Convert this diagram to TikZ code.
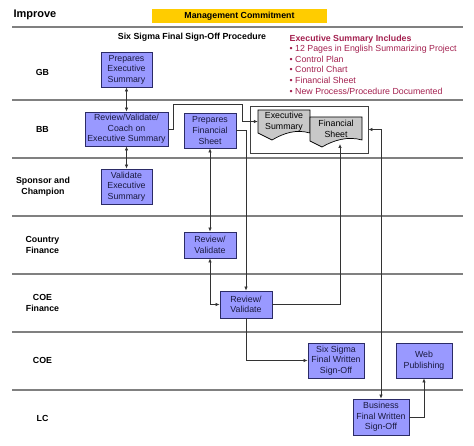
\documentclass[tikz,border=0pt]{standalone}
\usepackage{fontspec}
\setmainfont{Liberation Sans}
\usetikzlibrary{arrows.meta}
\definecolor{boxblue}{HTML}{9999FF}
\definecolor{boxline}{HTML}{2B2B66}
\definecolor{boxtext}{HTML}{1A1A40}
\definecolor{lanegray}{HTML}{808080}
\definecolor{docgray}{HTML}{C8C8C8}
\definecolor{mgmtyellow}{HTML}{FFCC00}
\definecolor{incred}{HTML}{A3204F}
\tikzset{
  stepbox/.style={draw=boxline,fill=boxblue,line width=0.8pt,inner sep=0pt,
    align=center,text=boxtext,font=\fontsize{8.8}{10.6}\selectfont},
  lanelabel/.style={font=\bfseries\fontsize{8.8}{10.6}\selectfont,align=center},
  lane/.style={draw=lanegray,line width=1.2pt},
  docshape/.style={draw=black,fill=docgray,line width=0.7pt},
  flow/.style={draw=black!80,line width=0.7pt,-{Latex[length=4pt,width=3.5pt]}},
  flowboth/.style={flow,{Latex[length=4pt,width=3.5pt]}-{Latex[length=4pt,width=3.5pt]}}
}
\begin{document}
\begin{tikzpicture}[x=1pt,y=-1pt]
\useasboundingbox (0,0) rectangle (474,446);
% header
\node[anchor=west,font=\bfseries\fontsize{11}{13}\selectfont] (improve) at (10,15) {Improve};
\node[fill=mgmtyellow,minimum width=175pt,minimum height=14pt,inner sep=0pt,
  font=\bfseries\fontsize{8.8}{10.6}\selectfont] (mgmt) at (239.5,16) {Management Commitment};
\node[font=\bfseries\fontsize{8.8}{10.6}\selectfont] (title) at (192,37.5) {Six Sigma Final Sign-Off Procedure};
\node[anchor=north west,inner sep=0pt,align=left,text=incred,
  font=\fontsize{8.8}{10.6}\selectfont] (includes) at (289.5,34.5) {\textbf{Executive Summary Includes}\\
  • 12 Pages in English Summarizing Project\\
  • Control Plan\\
  • Control Chart\\
  • Financial Sheet\\
  • New Process/Procedure Documented};
% swim lanes
\foreach \y in {27,100,158,216,274,332,390}
  \draw[lane] (12,\y) -- (463,\y);
\node[lanelabel] (gb) at (42.5,72) {GB};
\node[lanelabel] (bb) at (42.5,129) {BB};
\node[lanelabel] (sponsor) at (43,187) {Sponsor and\\Champion};
\node[lanelabel] (country) at (42.5,245) {Country\\Finance};
\node[lanelabel] (coefin) at (42.5,303) {COE\\Finance};
\node[lanelabel] (coe) at (42.5,360) {COE};
\node[lanelabel] (lc) at (42.5,418) {LC};
% steps
\node[stepbox,minimum width=51pt,minimum height=35pt] (gbprep) at (126.5,69.5) {Prepares\\Executive\\Summary};
\node[stepbox,minimum width=83pt,minimum height=34pt] (bbreview) at (126.5,129) {Review/Validate/\\Coach on\\Executive Summary};
\node[stepbox,minimum width=52pt,minimum height=35pt] (bbfin) at (210,130.5) {Prepares\\Financial\\Sheet};
\node[stepbox,minimum width=51pt,minimum height=35pt] (spvalid) at (126.5,186.5) {Validate\\Executive\\Summary};
\node[stepbox,minimum width=52pt,minimum height=26pt] (cfreview) at (210,245) {Review/\\Validate};
\node[stepbox,minimum width=52pt,minimum height=27pt] (coefreview) at (246,304.5) {Review/\\Validate};
\node[stepbox,minimum width=56pt,minimum height=35pt] (coesign) at (336,360.5) {Six Sigma\\Final Written\\Sign-Off};
\node[stepbox,minimum width=56pt,minimum height=35pt] (coeweb) at (424,360.5) {Web\\Publishing};
\node[stepbox,minimum width=56pt,minimum height=36pt] (lcsign) at (381,417) {Business\\Final Written\\Sign-Off};
% documents
\node[draw=black!75,fill=white,line width=0.9pt,minimum width=118pt,minimum height=47pt,inner sep=0pt] (docbox) at (309,129.5) {};
\draw[docshape] (258,110) -- (310,110) -- (310,133) .. controls (296,129) and (284,133) .. (272,140) -- (258,133) -- cycle;
\draw[docshape] (310,117) -- (362,117) -- (362,140) .. controls (348,136) and (334,140) .. (322,147) -- (310,141) -- cycle;
\node[minimum width=52pt,inner sep=0pt,align=center,font=\fontsize{8.8}{10.6}\selectfont] (execdoc) at (284,121.5) {Executive\\Summary};
\node[minimum width=52pt,inner sep=0pt,align=center,font=\fontsize{8.8}{10.6}\selectfont] (findoc) at (336,129) {Financial\\Sheet};
\coordinate (finbot) at (340,144);
% connectors
\draw[flowboth] (gbprep.south) -- (bbreview.north);
\draw[flowboth] (bbreview.south) -- (spvalid.north);
\draw[flow] (bbreview.east) -- ++(5,0) |- (242,104) |- (execdoc.west);
\draw[flowboth] (bbfin.south) -- (cfreview.north);
\draw[flow] (bbfin.east) -| (coefreview.north);
\draw[flowboth] (cfreview.south) |- (coefreview.west);
\draw[flow] (coefreview.east) -| (finbot);
\draw[flow] (coefreview.south) |- (coesign.west);
\draw[flowboth] (lcsign.north) |- (docbox.east);
\draw[flow] (lcsign.east) -| (coeweb.south);
\end{tikzpicture}
\end{document}
